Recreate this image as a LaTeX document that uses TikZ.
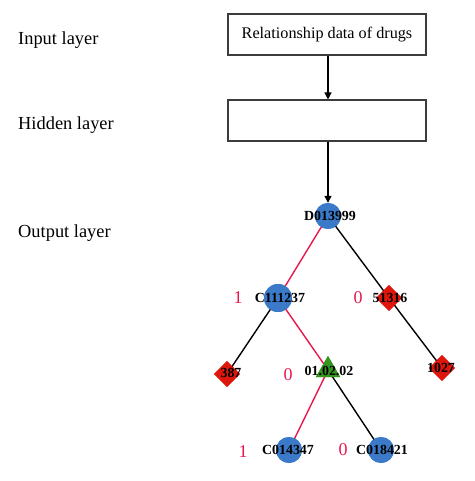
\documentclass[tikz,border=0pt]{standalone}
\usepackage{fontspec}
\setmainfont{Liberation Serif}
\usetikzlibrary{shapes.geometric,arrows.meta}
\definecolor{nodeblue}{RGB}{58,122,200}
\definecolor{diared}{RGB}{222,22,12}
\definecolor{trigreen}{RGB}{52,150,30}
\definecolor{edgered}{RGB}{232,24,78}
\definecolor{boxgray}{RGB}{60,60,60}
\tikzset{
  layerlabel/.style={anchor=west,inner sep=0pt,font=\fontsize{18.4}{20}\selectfont},
  layerbox/.style={draw=boxgray,line width=1.1pt,minimum width=198pt,minimum height=41pt,inner sep=0pt,font=\fontsize{16.2}{18}\selectfont},
  flowarrow/.style={line width=1.3pt,-{Triangle[length=7pt,width=7pt]}},
  circ/.style={circle,fill=nodeblue,minimum size=26pt,inner sep=0pt},
  dia/.style={diamond,fill=diared,minimum size=26pt,inner sep=0pt},
  tri/.style={regular polygon,regular polygon sides=3,fill=trigreen,minimum size=28pt,inner sep=0pt},
  lbl/.style={inner sep=0pt,font=\bfseries\fontsize{13.9}{15}\selectfont},
  bit/.style={inner sep=0pt,text=edgered,font=\fontsize{18}{20}\selectfont},
  redge/.style={edgered,line width=1.4pt},
  bedge/.style={black,line width=1.4pt},
}
\begin{document}
\begin{tikzpicture}[x=1pt,y=-1pt]
\useasboundingbox (0,0) rectangle (474,481);
% layer labels
\node[layerlabel] (inl) at (18,40) {Input layer};
\node[layerlabel] (hidl) at (18,125) {Hidden layer};
\node[layerlabel] (outl) at (18,233) {Output layer};
% boxes
\node[layerbox] (input) at (327,34.5) {Relationship data of drugs};
\node[layerbox] (hidden) at (327,120.5) {};
% tree node shapes
\node[circ] (d) at (328,216) {};
\node[circ,minimum size=28pt] (c1) at (278,298) {};
\node[dia] (s) at (389,298) {};
\node[dia] (n387) at (227,374) {};
\node[tri] (t) at (328,370) {};
\node[dia] (n1027) at (442,368) {};
\node[circ] (c2) at (289,450) {};
\node[circ] (c3) at (381,450) {};
% arrows
\draw[flowarrow] (input.south -| d) -- (hidden.north -| d);
\draw[flowarrow] (hidden.south -| d) -- (d.north);
% edges
\draw[redge] (d.center) -- (c1.center);
\draw[bedge] (d.center) -- (s.center);
\draw[bedge] (c1.center) -- (n387.center);
\draw[redge] (c1.center) -- (t.center);
\draw[bedge] (s.center) -- (n1027.center);
\draw[redge] (t.center) -- (c2.center);
\draw[bedge] (t.center) -- (c3.center);
% redraw shapes on top of edges
\node[circ] at (d) {};
\node[circ,minimum size=28pt] at (c1) {};
\node[dia] at (s) {};
\node[dia] at (n387) {};
\node[tri] at (t) {};
\node[dia] at (n1027) {};
\node[circ] at (c2) {};
\node[circ] at (c3) {};
% labels
\node[lbl] (ld) at (330,216) {D013999};
\node[lbl] (lc1) at (280,298) {C111237};
\node[lbl] (ls) at (390,298) {51316};
\node[lbl] (l387) at (231,373) {387};
\node[lbl] (lt) at (329,371) {01.02.02};
\node[lbl] (l1027) at (441,368) {1027};
\node[lbl] (lc2) at (288,450) {C014347};
\node[lbl] (lc3) at (382,450) {C018421};
% bits
\node[bit] (b1) at (238,298) {1};
\node[bit] (b2) at (358,298) {0};
\node[bit] (b3) at (288,375) {0};
\node[bit] (b4) at (243,452) {1};
\node[bit] (b5) at (343,450) {0};
\end{tikzpicture}
\end{document}
